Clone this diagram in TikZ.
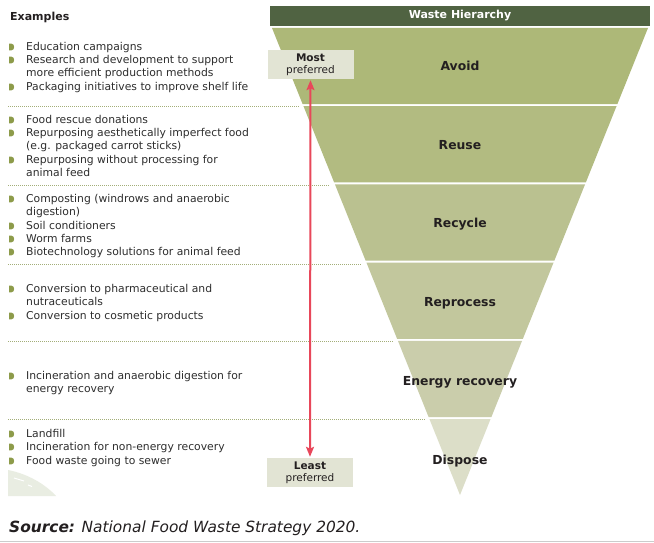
\documentclass[tikz,border=0pt]{standalone}
\usepackage{fontspec}
\setmainfont{DejaVu Sans}
\usetikzlibrary{calc,arrows.meta}
\definecolor{hdrgreen}{HTML}{506342}
\definecolor{bandA}{HTML}{ADB878}
\definecolor{bandB}{HTML}{B2BB81}
\definecolor{bandC}{HTML}{BAC190}
\definecolor{bandD}{HTML}{C2C79D}
\definecolor{bandE}{HTML}{CACDAB}
\definecolor{bandF}{HTML}{DCDEC8}
\definecolor{boxfill}{HTML}{E2E4D4}
\definecolor{arrowred}{HTML}{E8475A}
\definecolor{bulgreen}{HTML}{8D9B4A}
\definecolor{dotgreen}{HTML}{A3AE78}
\definecolor{txtgray}{HTML}{2E2E2E}
\definecolor{txtdark}{HTML}{231F20}
\definecolor{leafc}{HTML}{E9EDE2}
\tikzset{
	exitem/.style={anchor=north west, inner sep=0pt, align=left, text=txtgray, font=\fontsize{10.8}{13.3}\selectfont},
	bul/.style={fill=bulgreen},
	dotsep/.style={dotgreen, line width=0.8pt, dash pattern=on 0.8pt off 1.2pt},
	bandlab/.style={text=txtdark, font=\bfseries\fontsize{12.4}{14}\selectfont},
	prefbox/.style={fill=boxfill, minimum width=86pt, minimum height=29pt, inner sep=0pt, align=center, text=txtdark, font=\fontsize{10.5}{12}\selectfont},
	redarrow/.style={arrowred, line width=2pt, {Stealth[length=10pt,width=8pt,inset=2pt]}-{Stealth[length=10pt,width=8pt,inset=2pt]}}
}
\def\halfw#1{0.40257*(495-#1)}
\def\exitem(#1)(#2)#3{%
	\fill[bul] (9,#2-2.3) -- (11.5,#2-2.3) .. controls (15,#2-2.3) and (15,#2+4.3) .. (11.5,#2+4.3) -- (9,#2+4.3) -- cycle;
	\node[exitem] (#1) at (26,#2-5.3) {\strut #3};}

\begin{document}
\begin{tikzpicture}[x=1pt,y=-1pt]
			%%%%% START %%%%%
			\useasboundingbox[fill=white] (0,0) rectangle (654,543);
			
			\node[anchor=west, inner sep=0pt, text=txtdark, font=\bfseries\fontsize{11}{13}\selectfont] (examples) at (10,17) {Examples};
			\node[fill=hdrgreen, minimum width=380pt, minimum height=20pt, inner sep=0pt, text=white, font=\bfseries\fontsize{11}{13}\selectfont] (hdr) at (460,16) {Waste Hierarchy};
			
			% hierarchy bands
			\foreach \nm/\lab/\col [count=\i from 0] in {avoid/Avoid/bandA, reuse/Reuse/bandB, recycle/Recycle/bandC, reprocess/Reprocess/bandD, energy/Energy recovery/bandE, dispose/Dispose/bandF} {
				\pgfmathsetmacro\yt{28+78.2*\i}
				\pgfmathsetmacro\yb{min(\yt+76.2,495)}
				\pgfmathsetmacro\wt{\halfw{\yt}}
				\pgfmathsetmacro\wb{\halfw{\yb}}
				\fill[\col] (460-\wt,\yt) -- (460+\wt,\yt) -- (460+\wb,\yb) -- (460-\wb,\yb) -- cycle;
				\node[bandlab] (\nm) at (460,66+79*\i) {\lab};
			}
			
			% separators
			\foreach \y in {106.5,185,264,341.5,419}
				\draw[dotsep] (8,\y) -- ({460-\halfw{\y}-5.3},\y);
			
			% examples
			\exitem(e1)(46){Education campaigns}
			\exitem(e2)(59){Research and development to support\\more efficient production methods}
			\exitem(e3)(86){Packaging initiatives to improve shelf life}
			
			\exitem(e4)(119){Food rescue donations}
			\exitem(e5)(132){Repurposing aesthetically imperfect food\\(e.g. packaged carrot sticks)}
			\exitem(e6)(159){Repurposing without processing for\\animal feed}
			
			\exitem(e7)(198){Composting (windrows and anaerobic\\digestion)}
			\exitem(e8)(225){Soil conditioners}
			\exitem(e9)(238){Worm farms}
			\exitem(e10)(251){Biotechnology solutions for animal feed}
			
			\exitem(e11)(288){Conversion to pharmaceutical and\\nutraceuticals}
			\exitem(e12)(315){Conversion to cosmetic products}
			
			\exitem(e13)(375){Incineration and anaerobic digestion for\\energy recovery}
			
			\exitem(e14)(433){Landfill}
			\exitem(e15)(446){Incineration for non-energy recovery}
			\exitem(e16)(460){Food waste going to sewer}
			
			% preference
			\node[prefbox] (most) at (310.5,64.5) {\textbf{Most}\\preferred};
			\node[prefbox] (least) at (310,472.5) {\textbf{Least}\\preferred};
			\draw[redarrow, shorten <=1pt, shorten >=1pt] (least.north) -- (most.south);
			
			\fill[leafc] (8,470) .. controls (28,474) and (45,484) .. (56,496) -- (8,496) -- cycle;
			\draw[white, line width=1pt] (14,478) -- (24,481);
			\draw[white, line width=1pt] (28,485) -- (32,486.5);
			
			\node[anchor=west, inner sep=0pt, text=txtdark, font=\fontsize{15.4}{18}\selectfont] (source) at (9,528) {\textbf{\itshape Source:} \itshape National Food Waste Strategy 2020.};
			\draw[black!20, line width=1pt] (0,541.5) -- (654,541.5);
			
			%%%%% END %%%%%
\end{tikzpicture}
\end{document}
